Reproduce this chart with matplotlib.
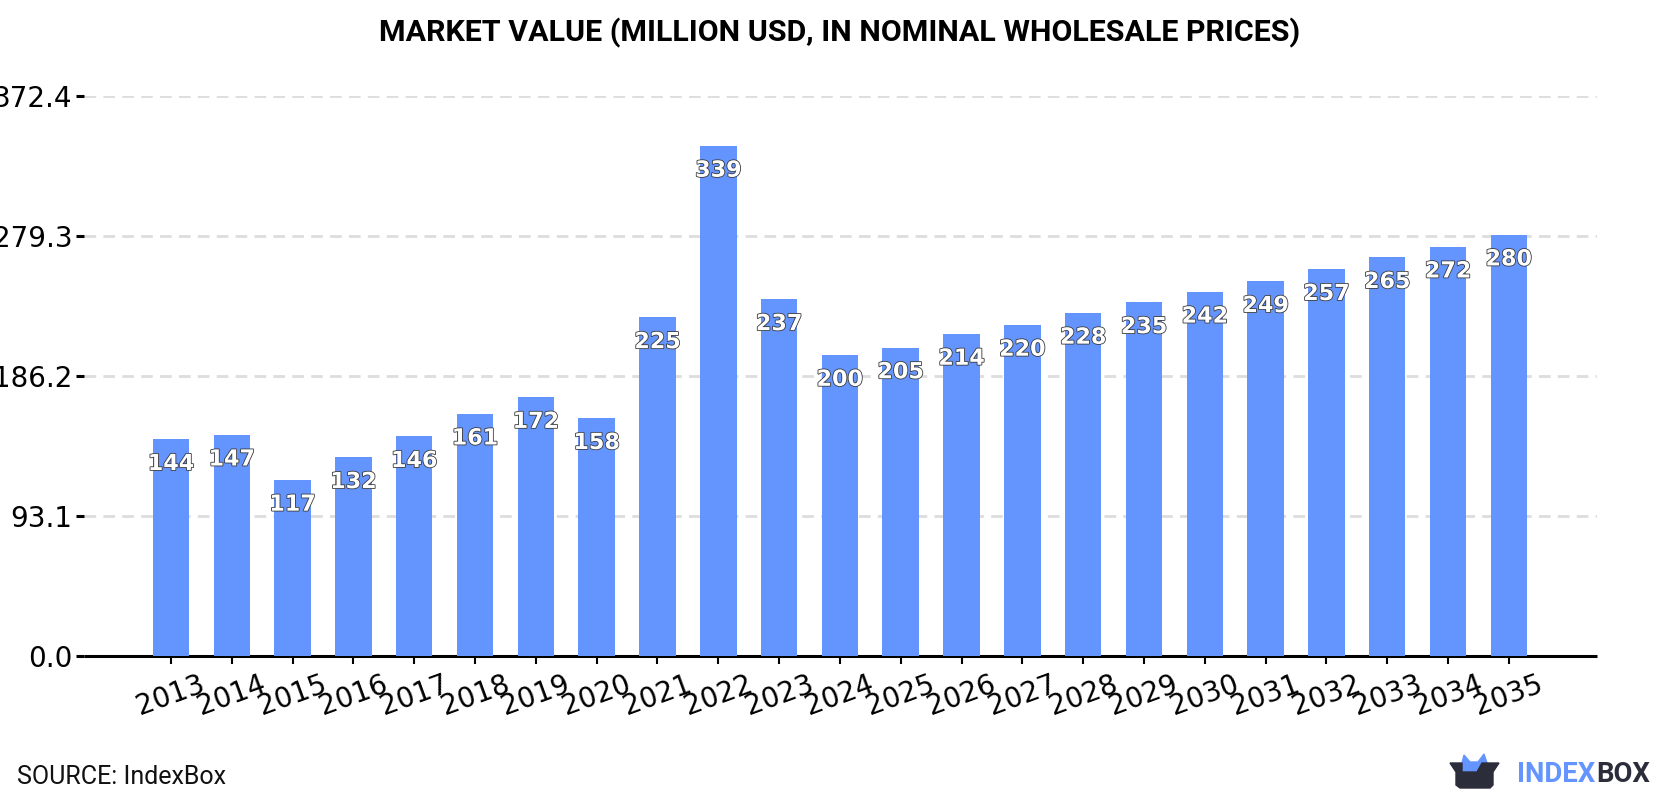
import matplotlib
matplotlib.use("Agg")
import matplotlib.pyplot as plt
import matplotlib.patheffects as pe
from matplotlib.patches import Polygon

years = list(range(2013, 2036))
values = [144, 147, 117, 132, 146, 161, 172, 158, 225, 339, 237, 200, 205, 214,
          220, 228, 235, 242, 249, 257, 265, 272, 280]
y_ticks = [0.0, 93.1, 186.2, 279.3, 372.4]
BAR = "#6495ff"
DARK = "#2b2d3a"
W, H = 1680, 800

fig = plt.figure(figsize=(W / 100, H / 100), dpi=100, facecolor="white")
ax = fig.add_axes([84 / W, 1 - 656 / H, (1597 - 84) / W, (656 - 95.7) / H])

ax.bar(years, values, width=0.6, color=BAR, zorder=3)
ax.set_xlim(years[0] - 1.43, years[0] + 23.45)
ax.set_ylim(0, y_ticks[-1])

for s in ("top", "right", "left"):
    ax.spines[s].set_visible(False)
ax.spines["bottom"].set_linewidth(2.2)
ax.spines["bottom"].set_capstyle("butt")

ax.set_yticks(y_ticks)
ax.set_yticklabels([f"{v:.1f}" for v in y_ticks])
ax.set_xticks(years)
ax.set_xticklabels([str(y) for y in years], rotation=20, ha="center")
ax.tick_params(axis="y", labelsize=20, length=6, width=2.2, pad=2.5)
ax.tick_params(axis="x", labelsize=20, length=6, width=1.5, pad=4)
ax.grid(axis="y", color="#dddddd", linestyle=(0, (4.2, 2.6)), linewidth=2, zorder=1)
ax.set_axisbelow(True)

# value labels inside the top of each bar
for x, v in zip(years, values):
    ax.annotate(str(v), (x, v), xytext=(0, -10.6), textcoords="offset points",
                ha="center", va="top", fontsize=16, fontweight="bold",
                color="white", zorder=5, family="DejaVu Sans",
                path_effects=[pe.withStroke(linewidth=1.2, foreground="#3a3a3a")])

fig.text(0.5, 1 - 33 / H, "MARKET VALUE (MILLION USD, IN NOMINAL WHOLESALE PRICES)",
         ha="center", va="center", fontsize=21.9, fontweight="bold", family="Roboto", color="#000000")
fig.text(17 / W, 1 - 777 / H, "SOURCE: IndexBox", ha="left", va="center",
         fontsize=18, family="Roboto", color="#111111")

# brand mark in the lower right corner
overlay = fig.add_axes([0, 0, 1, 1], facecolor="none")
overlay.set_xlim(0, W)
overlay.set_ylim(H, 0)
overlay.axis("off")
overlay.add_patch(Polygon([(1462, 763), (1464, 755), (1470, 762), (1478, 762), (1484, 754),
                           (1487, 763), (1487, 772), (1462, 772)], closed=True, color=BAR))
overlay.add_patch(Polygon([(1450, 763), (1462, 763), (1462, 772), (1477, 772), (1482, 763),
                           (1499, 763), (1493, 772), (1493, 785), (1490, 788), (1460, 788),
                           (1456, 785), (1456, 772)], closed=True, color=DARK))
t1 = overlay.text(1517, 774.5, "INDEX", ha="left", va="center", fontsize=19.8,
                  fontweight="bold", family="Roboto", color=BAR)
fig.canvas.draw()
bb = t1.get_window_extent()
overlay.text(bb.x1 + 0.5, 774.5, "BOX", ha="left", va="center", fontsize=19.8,
             fontweight="bold", family="Roboto", color=DARK)

fig.savefig("out.png", dpi=100, facecolor="white")
